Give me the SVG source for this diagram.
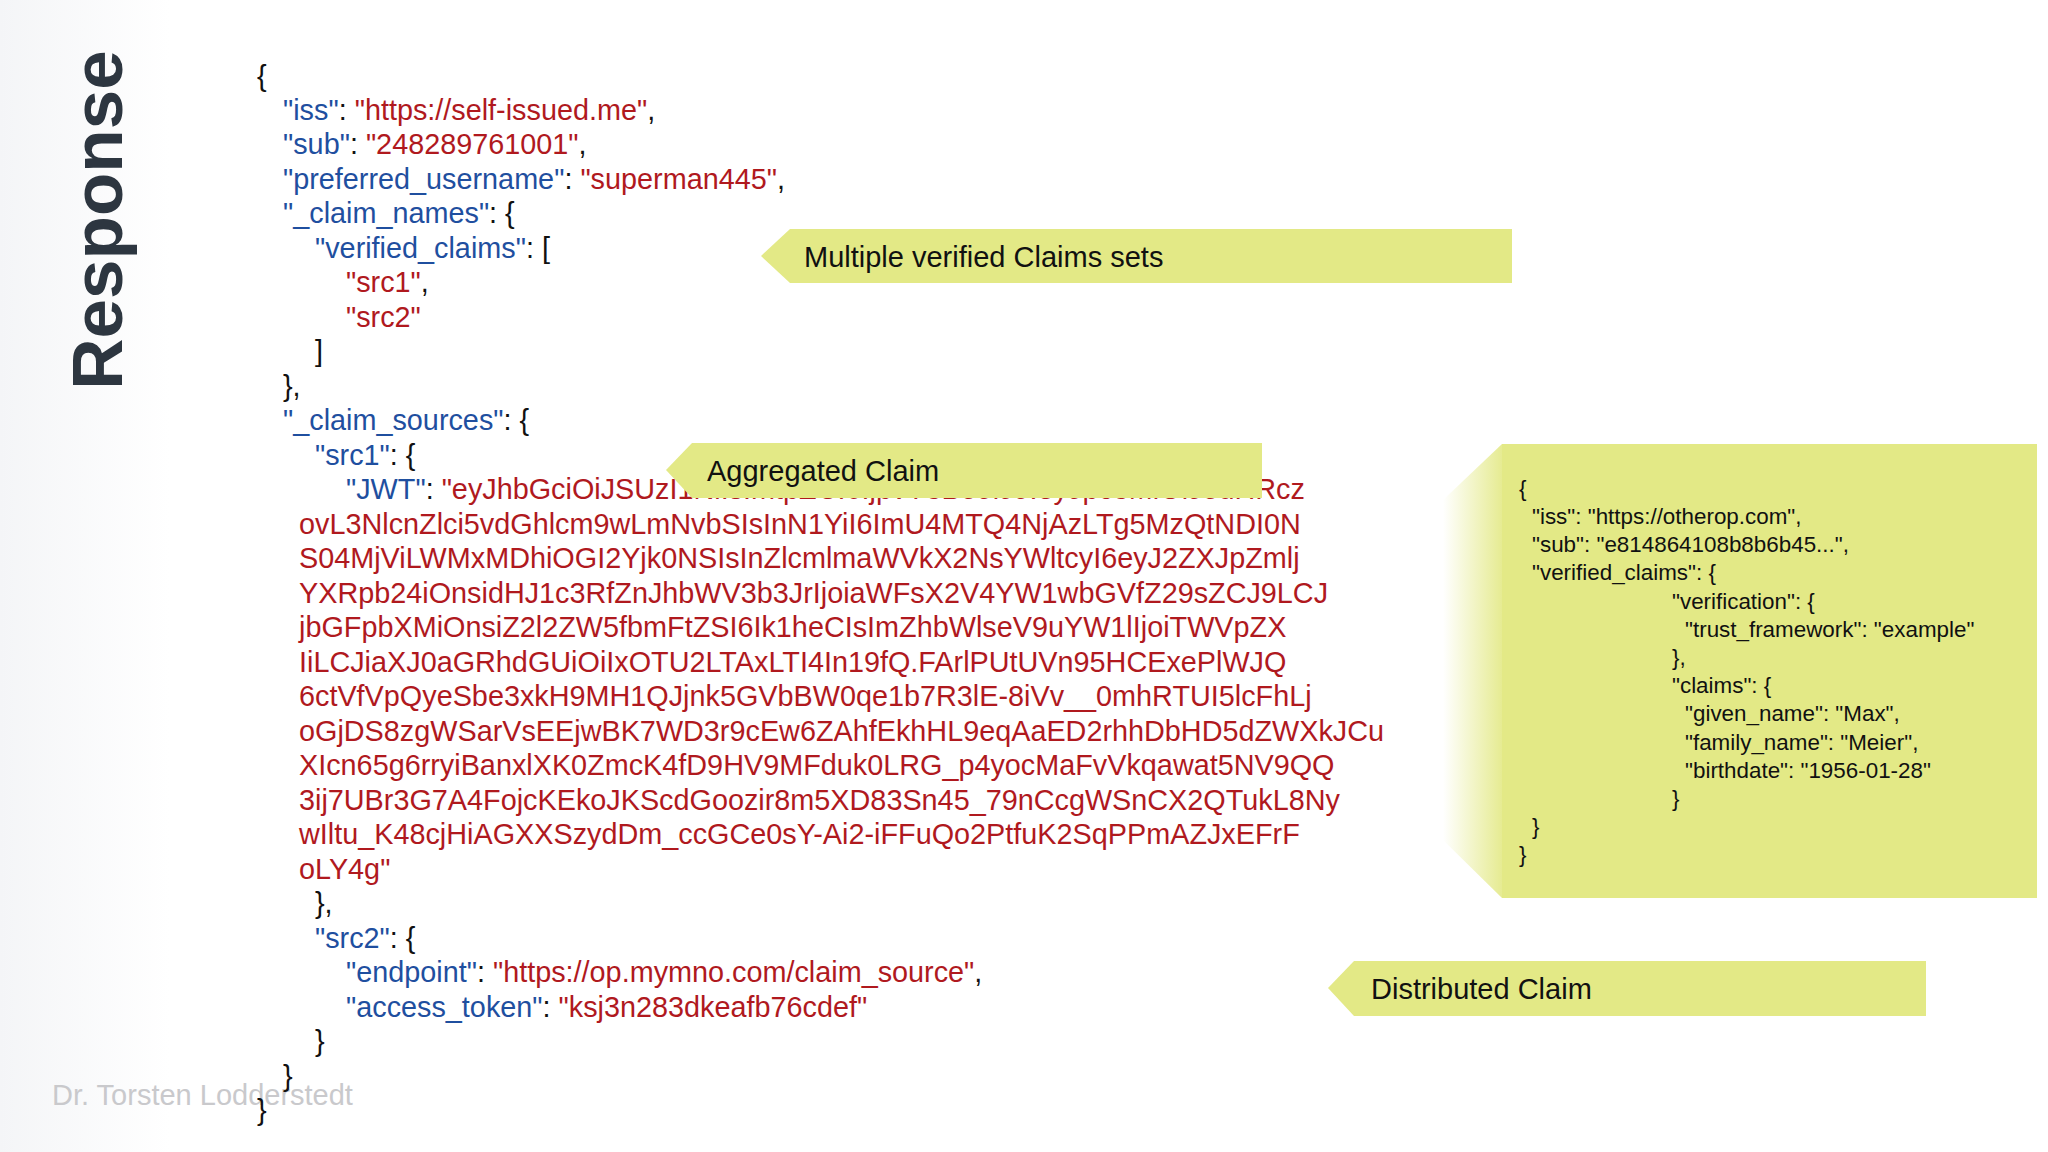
<svg xmlns="http://www.w3.org/2000/svg" width="2048" height="1152" viewBox="0 0 2048 1152">
<defs>
<style>
.m{font-family:"Liberation Sans",Arial,sans-serif;font-size:28.8px;fill:#111}
.k{fill:#1f4f9f}
.s{fill:#b0191e}
.b{font-family:"Liberation Sans",Arial,sans-serif;font-size:22.4px;fill:#111}
.c{font-family:"Liberation Sans",Arial,sans-serif;font-size:29px;fill:#111}
.tag{fill:#e3e986}
</style>
<linearGradient id="bev" x1="0" x2="1" y1="0" y2="0">
<stop offset="0" stop-color="#e3e986" stop-opacity="0"/>
<stop offset="1" stop-color="#e3e986" stop-opacity="0.9"/>
</linearGradient>
<linearGradient id="lp" x1="0" x2="1" y1="0" y2="0">
<stop offset="0" stop-color="#f4f5f7"/>
<stop offset="1" stop-color="#ffffff"/>
</linearGradient>
</defs>
<rect width="2048" height="1152" fill="#fff"/>
<rect x="0" y="0" width="170" height="1152" fill="url(#lp)"/>
<text transform="translate(122,220) rotate(-90)" text-anchor="middle" font-family="Liberation Sans,Arial,sans-serif" font-size="71" font-weight="bold" fill="#2d3640">Response</text>
<text x="52" y="1105" font-family="Liberation Sans,Arial,sans-serif" font-size="29" fill="#c9c9cc">Dr. Torsten Lodderstedt</text>

<g id="json">
<text class="m" x="257" y="86">{</text>
<text class="m" x="283" y="120"><tspan class="k">"iss"</tspan>: <tspan class="s">"https://self-issued.me"</tspan>,</text>
<text class="m" x="283" y="154"><tspan class="k">"sub"</tspan>: <tspan class="s">"248289761001"</tspan>,</text>
<text class="m" x="283" y="189"><tspan class="k">"preferred_username"</tspan>: <tspan class="s">"superman445"</tspan>,</text>
<text class="m" x="283" y="223"><tspan class="k">"_claim_names"</tspan>: {</text>
<text class="m" x="315" y="258"><tspan class="k">"verified_claims"</tspan>: [</text>
<text class="m" x="346" y="292"><tspan class="s">"src1"</tspan>,</text>
<text class="m" x="346" y="327"><tspan class="s">"src2"</tspan></text>
<text class="m" x="315" y="361">]</text>
<text class="m" x="283" y="396">},</text>
<text class="m" x="283" y="430"><tspan class="k">"_claim_sources"</tspan>: {</text>
<text class="m" x="315" y="465"><tspan class="k">"src1"</tspan>: {</text>
<text class="m" x="346" y="499"><tspan class="k">"JWT"</tspan>: <tspan class="s">"eyJhbGciOiJSUzI1NiIsImtpZCI6IjpvY3Bo9iJ9.eyJpc3MiOiJodHRcz</tspan></text>
<g class="m s">
<text x="299" y="534">ovL3NlcnZlci5vdGhlcm9wLmNvbSIsInN1YiI6ImU4MTQ4NjAzLTg5MzQtNDI0N</text>
<text x="299" y="568">S04MjViLWMxMDhiOGI2Yjk0NSIsInZlcmlmaWVkX2NsYWltcyI6eyJ2ZXJpZmlj</text>
<text x="299" y="603">YXRpb24iOnsidHJ1c3RfZnJhbWV3b3JrIjoiaWFsX2V4YW1wbGVfZ29sZCJ9LCJ</text>
<text x="299" y="637">jbGFpbXMiOnsiZ2l2ZW5fbmFtZSI6Ik1heCIsImZhbWlseV9uYW1lIjoiTWVpZX</text>
<text x="299" y="672">IiLCJiaXJ0aGRhdGUiOiIxOTU2LTAxLTI4In19fQ.FArlPUtUVn95HCExePlWJQ</text>
<text x="299" y="706">6ctVfVpQyeSbe3xkH9MH1QJjnk5GVbBW0qe1b7R3lE-8iVv__0mhRTUI5lcFhLj</text>
<text x="299" y="741">oGjDS8zgWSarVsEEjwBK7WD3r9cEw6ZAhfEkhHL9eqAaED2rhhDbHD5dZWXkJCu</text>
<text x="299" y="775">XIcn65g6rryiBanxlXK0ZmcK4fD9HV9MFduk0LRG_p4yocMaFvVkqawat5NV9QQ</text>
<text x="299" y="810">3ij7UBr3G7A4FojcKEkoJKScdGoozir8m5XD83Sn45_79nCcgWSnCX2QTukL8Ny</text>
<text x="299" y="844">wIltu_K48cjHiAGXXSzydDm_ccGCe0sY-Ai2-iFFuQo2PtfuK2SqPPmAZJxEFrF</text>
<text x="299" y="879">oLY4g"</text>
</g>
<text class="m" x="315" y="913">},</text>
<text class="m" x="315" y="948"><tspan class="k">"src2"</tspan>: {</text>
<text class="m" x="346" y="982"><tspan class="k">"endpoint"</tspan>: <tspan class="s">"https://op.mymno.com/claim_source"</tspan>,</text>
<text class="m" x="346" y="1017"><tspan class="k">"access_token"</tspan>: <tspan class="s">"ksj3n283dkeafb76cdef"</tspan></text>
<text class="m" x="315" y="1051">}</text>
<text class="m" x="283" y="1086">}</text>
<text class="m" x="257" y="1120">}</text>
</g>

<g id="callout-multiple">
<polygon class="tag" points="761,256 790,229 1512,229 1512,283 790,283"/>
<text class="c" x="804" y="267">Multiple verified Claims sets</text>
</g>
<g id="callout-aggregated">
<polygon class="tag" points="666,470 692,443 1262,443 1262,498 692,498"/>
<text class="c" x="707" y="481">Aggregated Claim</text>
</g>
<g id="callout-distributed">
<polygon class="tag" points="1328,988 1354,961 1926,961 1926,1016 1354,1016"/>
<text class="c" x="1371" y="999">Distributed Claim</text>
</g>

<g id="jwt-box">
<polygon points="1443,500 1502,444 1502,898 1443,840" fill="url(#bev)"/>
<rect x="1502" y="444" width="535" height="454" class="tag"/>
<g class="b">
<text x="1519" y="496">{</text>
<text x="1532" y="524">"iss": "https://otherop.com",</text>
<text x="1532" y="552">"sub": "e814864108b8b6b45...",</text>
<text x="1532" y="580">"verified_claims": {</text>
<text x="1672" y="609">"verification": {</text>
<text x="1685" y="637">"trust_framework": "example"</text>
<text x="1672" y="665">},</text>
<text x="1672" y="693">"claims": {</text>
<text x="1685" y="721">"given_name": "Max",</text>
<text x="1685" y="750">"family_name": "Meier",</text>
<text x="1685" y="778">"birthdate": "1956-01-28"</text>
<text x="1672" y="806">}</text>
<text x="1532" y="834">}</text>
<text x="1519" y="862">}</text>
</g>
</g>
</svg>
